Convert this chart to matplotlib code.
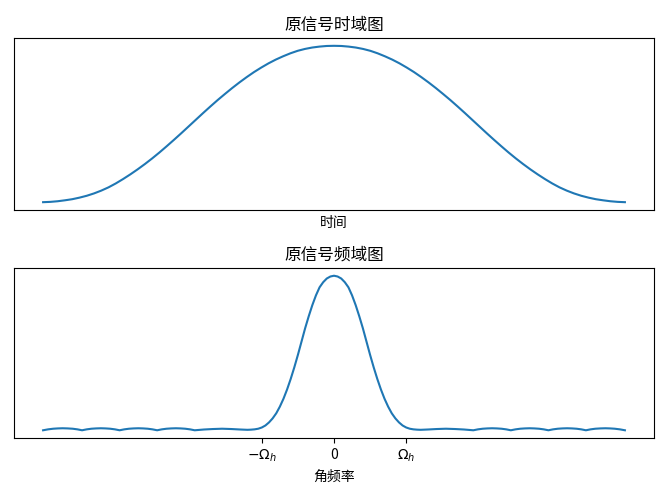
import matplotlib
matplotlib.use("Agg")
import matplotlib.pyplot as plt

plt.rcParams['font.family'] = ['Noto Sans CJK SC', 'DejaVu Sans']
plt.rcParams['axes.unicode_minus'] = False

# Time-domain signal, left half (normalised time, amplitude)
time_half_t = [-1.000, -0.975, -0.950, -0.925, -0.900, -0.875, -0.850, -0.825,
               -0.800, -0.775, -0.750, -0.725, -0.700, -0.675, -0.650, -0.625,
               -0.600, -0.575, -0.550, -0.525, -0.500, -0.475, -0.450, -0.425,
               -0.400, -0.375, -0.350, -0.325, -0.300, -0.275, -0.250, -0.225,
               -0.200, -0.175, -0.150, -0.125, -0.100, -0.075, -0.050, -0.025, 0.000]
time_half_v = [0.000, 0.002, 0.006, 0.012, 0.019, 0.029, 0.041, 0.056,
               0.074, 0.095, 0.120, 0.148, 0.178, 0.210, 0.244, 0.280,
               0.318, 0.358, 0.399, 0.441, 0.484, 0.527, 0.570, 0.612,
               0.653, 0.692, 0.730, 0.766, 0.800, 0.832, 0.861, 0.888,
               0.912, 0.933, 0.952, 0.968, 0.980, 0.989, 0.995, 0.999, 1.000]
time_t = time_half_t + [-t for t in time_half_t[-2::-1]]
time_v = time_half_v + time_half_v[-2::-1]

# Frequency-domain magnitude, right half (angular frequency in units of Omega_h)
freq_pos_w = [0.00, 0.05, 0.10, 0.15, 0.20, 0.25, 0.30, 0.35, 0.40, 0.45,
              0.50, 0.55, 0.60, 0.65, 0.70, 0.75, 0.80, 0.85, 0.90, 0.95,
              1.00, 1.05, 1.10, 1.15, 1.20, 1.30, 1.42, 1.55, 1.68, 1.80, 1.93,
              1.995, 2.06, 2.125, 2.19, 2.255, 2.32, 2.385, 2.45,
              2.515, 2.58, 2.645, 2.71, 2.775, 2.84, 2.905, 2.97,
              3.035, 3.10, 3.165, 3.23, 3.295, 3.36, 3.425, 3.49,
              3.555, 3.62, 3.69, 3.76, 3.825, 3.89, 3.96, 4.03]
freq_pos_v = [1.000, 0.995, 0.982, 0.958, 0.925, 0.873, 0.810, 0.738, 0.660, 0.574,
              0.488, 0.407, 0.332, 0.264, 0.204, 0.153, 0.110, 0.077, 0.051, 0.031,
              0.018, 0.010, 0.006, 0.004, 0.003, 0.005, 0.008, 0.010, 0.008, 0.005, 0.000,
              0.006, 0.010, 0.012, 0.013, 0.012, 0.010, 0.006, 0.000,
              0.006, 0.010, 0.012, 0.013, 0.012, 0.010, 0.006, 0.000,
              0.006, 0.010, 0.012, 0.013, 0.012, 0.010, 0.006, 0.000,
              0.006, 0.010, 0.012, 0.013, 0.012, 0.010, 0.006, 0.000]
freq_w = [-w for w in freq_pos_w[:0:-1]] + freq_pos_w
freq_v = freq_pos_v[:0:-1] + freq_pos_v

freq_ticks = [-1, 0, 1]
freq_tick_labels = [r'$-\Omega_h$', '0', r'$\Omega_h$']

fig = plt.figure(figsize=(6.67, 5.0), dpi=100)
ax1 = fig.add_axes([14/667, 1 - 210/500, 640/667, 172/500])
ax2 = fig.add_axes([14/667, 1 - 438/500, 640/667, 170/500])

ax1.plot(time_t, time_v, color='#1f77b4', lw=1.5)
ax1.set_title('原信号时域图', fontsize=12)
ax1.set_xlabel('时间', fontsize=10)
ax1.set_xticks([])
ax1.set_yticks([])

ax2.plot(freq_w, freq_v, color='#1f77b4', lw=1.5)
ax2.set_title('原信号频域图', fontsize=12)
ax2.set_xlabel('角频率', fontsize=10)
ax2.set_xticks(freq_ticks)
ax2.set_xticklabels(freq_tick_labels, fontsize=10)
ax2.set_yticks([])

fig.savefig('out.png', dpi=100)
